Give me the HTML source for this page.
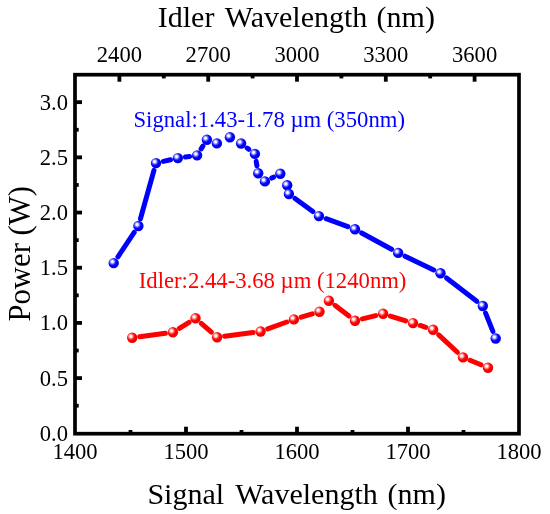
<!DOCTYPE html>
<html><head><meta charset="utf-8"><style>
html,body{margin:0;padding:0;background:#fff;overflow:hidden;}
svg{display:block;}
text{font-family:"Liberation Serif","Times New Roman",serif;}
</style></head><body>
<svg width="550" height="514" viewBox="0 0 550 514">
<defs>
<radialGradient id="gb" cx="0.38" cy="0.37" r="0.68" fx="0.365" fy="0.355">
<stop offset="0" stop-color="#ffffff"/>
<stop offset="0.15" stop-color="#f2f2ff"/>
<stop offset="0.4" stop-color="#4444ff"/>
<stop offset="0.56" stop-color="#0000ff"/>
<stop offset="0.8" stop-color="#0000f0"/>
<stop offset="1" stop-color="#0000dc"/>
</radialGradient>
<radialGradient id="gr" cx="0.38" cy="0.37" r="0.68" fx="0.365" fy="0.355">
<stop offset="0" stop-color="#ffffff"/>
<stop offset="0.15" stop-color="#fff2f2"/>
<stop offset="0.4" stop-color="#ff4444"/>
<stop offset="0.56" stop-color="#ff0000"/>
<stop offset="0.8" stop-color="#f60000"/>
<stop offset="1" stop-color="#e40000"/>
</radialGradient>
</defs>
<rect x="0" y="0" width="550" height="514" fill="#fff"/>
<g stroke="#000" stroke-width="3.8" stroke-linecap="butt">
<line x1="130.50" y1="433.70" x2="130.50" y2="430.00"/>
<line x1="186.00" y1="433.70" x2="186.00" y2="426.70"/>
<line x1="241.50" y1="433.70" x2="241.50" y2="430.00"/>
<line x1="297.00" y1="433.70" x2="297.00" y2="426.70"/>
<line x1="352.50" y1="433.70" x2="352.50" y2="430.00"/>
<line x1="408.00" y1="433.70" x2="408.00" y2="426.70"/>
<line x1="463.50" y1="433.70" x2="463.50" y2="430.00"/>
<line x1="75.00" y1="405.71" x2="78.70" y2="405.71"/>
<line x1="75.00" y1="378.11" x2="82.00" y2="378.11"/>
<line x1="75.00" y1="350.51" x2="78.70" y2="350.51"/>
<line x1="75.00" y1="322.92" x2="82.00" y2="322.92"/>
<line x1="75.00" y1="295.33" x2="78.70" y2="295.33"/>
<line x1="75.00" y1="267.73" x2="82.00" y2="267.73"/>
<line x1="75.00" y1="240.14" x2="78.70" y2="240.14"/>
<line x1="75.00" y1="212.54" x2="82.00" y2="212.54"/>
<line x1="75.00" y1="184.95" x2="78.70" y2="184.95"/>
<line x1="75.00" y1="157.35" x2="82.00" y2="157.35"/>
<line x1="75.00" y1="129.76" x2="78.70" y2="129.76"/>
<line x1="75.00" y1="102.16" x2="82.00" y2="102.16"/>
<line x1="119.40" y1="74.70" x2="119.40" y2="81.70"/>
<line x1="163.80" y1="74.70" x2="163.80" y2="78.40"/>
<line x1="208.20" y1="74.70" x2="208.20" y2="81.70"/>
<line x1="252.60" y1="74.70" x2="252.60" y2="78.40"/>
<line x1="297.00" y1="74.70" x2="297.00" y2="81.70"/>
<line x1="341.40" y1="74.70" x2="341.40" y2="78.40"/>
<line x1="385.80" y1="74.70" x2="385.80" y2="81.70"/>
<line x1="430.20" y1="74.70" x2="430.20" y2="78.40"/>
<line x1="474.60" y1="74.70" x2="474.60" y2="81.70"/>
</g>
<rect x="75.0" y="74.7" width="444.0" height="359.0" fill="none" stroke="#000" stroke-width="3.7"/>
<g stroke="#ff0000" stroke-width="5.0" stroke-linecap="round">
<line x1="139.73" y1="336.78" x2="165.37" y2="333.32"/>
<line x1="179.36" y1="328.30" x2="189.04" y2="322.30"/>
<line x1="201.22" y1="323.30" x2="211.38" y2="332.20"/>
<line x1="224.64" y1="336.21" x2="253.06" y2="332.49"/>
<line x1="267.74" y1="328.90" x2="286.76" y2="322.00"/>
<line x1="301.18" y1="317.21" x2="312.22" y2="313.89"/>
<line x1="334.93" y1="305.32" x2="348.97" y2="316.08"/>
<line x1="362.38" y1="318.89" x2="375.72" y2="315.61"/>
<line x1="390.36" y1="316.06" x2="405.74" y2="320.84"/>
<line x1="420.22" y1="325.47" x2="425.88" y2="327.33"/>
<line x1="438.68" y1="334.86" x2="457.42" y2="352.24"/>
<line x1="470.03" y1="360.30" x2="480.97" y2="364.80"/>
</g>
<g stroke="#0000ff" stroke-width="5.0" stroke-linecap="round">
<line x1="117.92" y1="256.78" x2="134.18" y2="232.37"/>
<line x1="140.45" y1="218.73" x2="153.95" y2="170.42"/>
<line x1="163.41" y1="161.41" x2="170.49" y2="159.79"/>
<line x1="185.43" y1="157.04" x2="189.57" y2="156.46"/>
<line x1="201.12" y1="148.95" x2="202.88" y2="146.15"/>
<line x1="247.17" y1="148.07" x2="248.83" y2="149.33"/>
<line x1="256.18" y1="161.39" x2="256.92" y2="165.71"/>
<line x1="271.72" y1="178.04" x2="273.48" y2="177.16"/>
<line x1="295.02" y1="198.50" x2="312.83" y2="211.60"/>
<line x1="326.09" y1="218.71" x2="347.86" y2="226.69"/>
<line x1="361.67" y1="232.94" x2="391.53" y2="249.26"/>
<line x1="405.05" y1="256.20" x2="433.65" y2="270.00"/>
<line x1="446.51" y1="277.95" x2="476.79" y2="301.35"/>
<line x1="485.60" y1="313.06" x2="492.90" y2="331.44"/>
</g>
<circle cx="132.20" cy="337.80" r="5.2" fill="url(#gr)"/>
<circle cx="172.90" cy="332.30" r="5.2" fill="url(#gr)"/>
<circle cx="195.50" cy="318.30" r="5.2" fill="url(#gr)"/>
<circle cx="217.10" cy="337.20" r="5.2" fill="url(#gr)"/>
<circle cx="260.60" cy="331.50" r="5.2" fill="url(#gr)"/>
<circle cx="293.90" cy="319.40" r="5.2" fill="url(#gr)"/>
<circle cx="319.50" cy="311.70" r="5.2" fill="url(#gr)"/>
<circle cx="328.90" cy="300.70" r="5.2" fill="url(#gr)"/>
<circle cx="355.00" cy="320.70" r="5.2" fill="url(#gr)"/>
<circle cx="383.10" cy="313.80" r="5.2" fill="url(#gr)"/>
<circle cx="413.00" cy="323.10" r="5.2" fill="url(#gr)"/>
<circle cx="433.10" cy="329.70" r="5.2" fill="url(#gr)"/>
<circle cx="463.00" cy="357.40" r="5.2" fill="url(#gr)"/>
<circle cx="488.00" cy="367.70" r="5.2" fill="url(#gr)"/>
<circle cx="113.70" cy="263.10" r="5.2" fill="url(#gb)"/>
<circle cx="138.40" cy="226.05" r="5.2" fill="url(#gb)"/>
<circle cx="156.00" cy="163.10" r="5.2" fill="url(#gb)"/>
<circle cx="177.90" cy="158.10" r="5.2" fill="url(#gb)"/>
<circle cx="197.10" cy="155.40" r="5.2" fill="url(#gb)"/>
<circle cx="206.90" cy="139.70" r="5.2" fill="url(#gb)"/>
<circle cx="216.90" cy="143.40" r="5.2" fill="url(#gb)"/>
<circle cx="229.90" cy="137.20" r="5.2" fill="url(#gb)"/>
<circle cx="241.10" cy="143.50" r="5.2" fill="url(#gb)"/>
<circle cx="254.90" cy="153.90" r="5.2" fill="url(#gb)"/>
<circle cx="258.20" cy="173.20" r="5.2" fill="url(#gb)"/>
<circle cx="264.90" cy="181.40" r="5.2" fill="url(#gb)"/>
<circle cx="280.30" cy="173.80" r="5.2" fill="url(#gb)"/>
<circle cx="287.20" cy="185.30" r="5.2" fill="url(#gb)"/>
<circle cx="288.90" cy="194.00" r="5.2" fill="url(#gb)"/>
<circle cx="318.95" cy="216.10" r="5.2" fill="url(#gb)"/>
<circle cx="355.00" cy="229.30" r="5.2" fill="url(#gb)"/>
<circle cx="398.20" cy="252.90" r="5.2" fill="url(#gb)"/>
<circle cx="440.50" cy="273.30" r="5.2" fill="url(#gb)"/>
<circle cx="482.80" cy="306.00" r="5.2" fill="url(#gb)"/>
<circle cx="495.70" cy="338.50" r="5.2" fill="url(#gb)"/>
<g font-size="22.6" fill="#000">
<text x="75.00" y="458.6" text-anchor="middle">1400</text>
<text x="186.00" y="458.6" text-anchor="middle">1500</text>
<text x="297.00" y="458.6" text-anchor="middle">1600</text>
<text x="408.00" y="458.6" text-anchor="middle">1700</text>
<text x="519.00" y="458.6" text-anchor="middle">1800</text>
<text x="119.40" y="62.2" text-anchor="middle">2400</text>
<text x="208.20" y="62.2" text-anchor="middle">2700</text>
<text x="297.00" y="62.2" text-anchor="middle">3000</text>
<text x="385.80" y="62.2" text-anchor="middle">3300</text>
<text x="474.60" y="62.2" text-anchor="middle">3600</text>
<text x="68.0" y="440.70" text-anchor="end">0.0</text>
<text x="68.0" y="385.51" text-anchor="end">0.5</text>
<text x="68.0" y="330.32" text-anchor="end">1.0</text>
<text x="68.0" y="275.13" text-anchor="end">1.5</text>
<text x="68.0" y="219.94" text-anchor="end">2.0</text>
<text x="68.0" y="164.75" text-anchor="end">2.5</text>
<text x="68.0" y="109.56" text-anchor="end">3.0</text>
</g>
<text y="27.1" font-size="30"><tspan x="157.8">Idler</tspan> <tspan x="224.8">Wavelength</tspan> <tspan x="376.6">(nm)</tspan></text>
<text y="503.7" font-size="30"><tspan x="147.4">Signal</tspan> <tspan x="235.2">Wavelength</tspan> <tspan x="387.6">(nm)</tspan></text>
<text transform="translate(29.8,253.8) rotate(-90)" font-size="30.7" text-anchor="middle">Power (W)</text>
<text x="133.5" y="126.7" font-size="22.7" fill="#0000ff">Signal:1.43-1.78 µm (350nm)</text>
<text x="138.8" y="287.8" font-size="22.7" fill="#ff0000">Idler:2.44-3.68 µm (1240nm)</text>
</svg>
</body></html>
